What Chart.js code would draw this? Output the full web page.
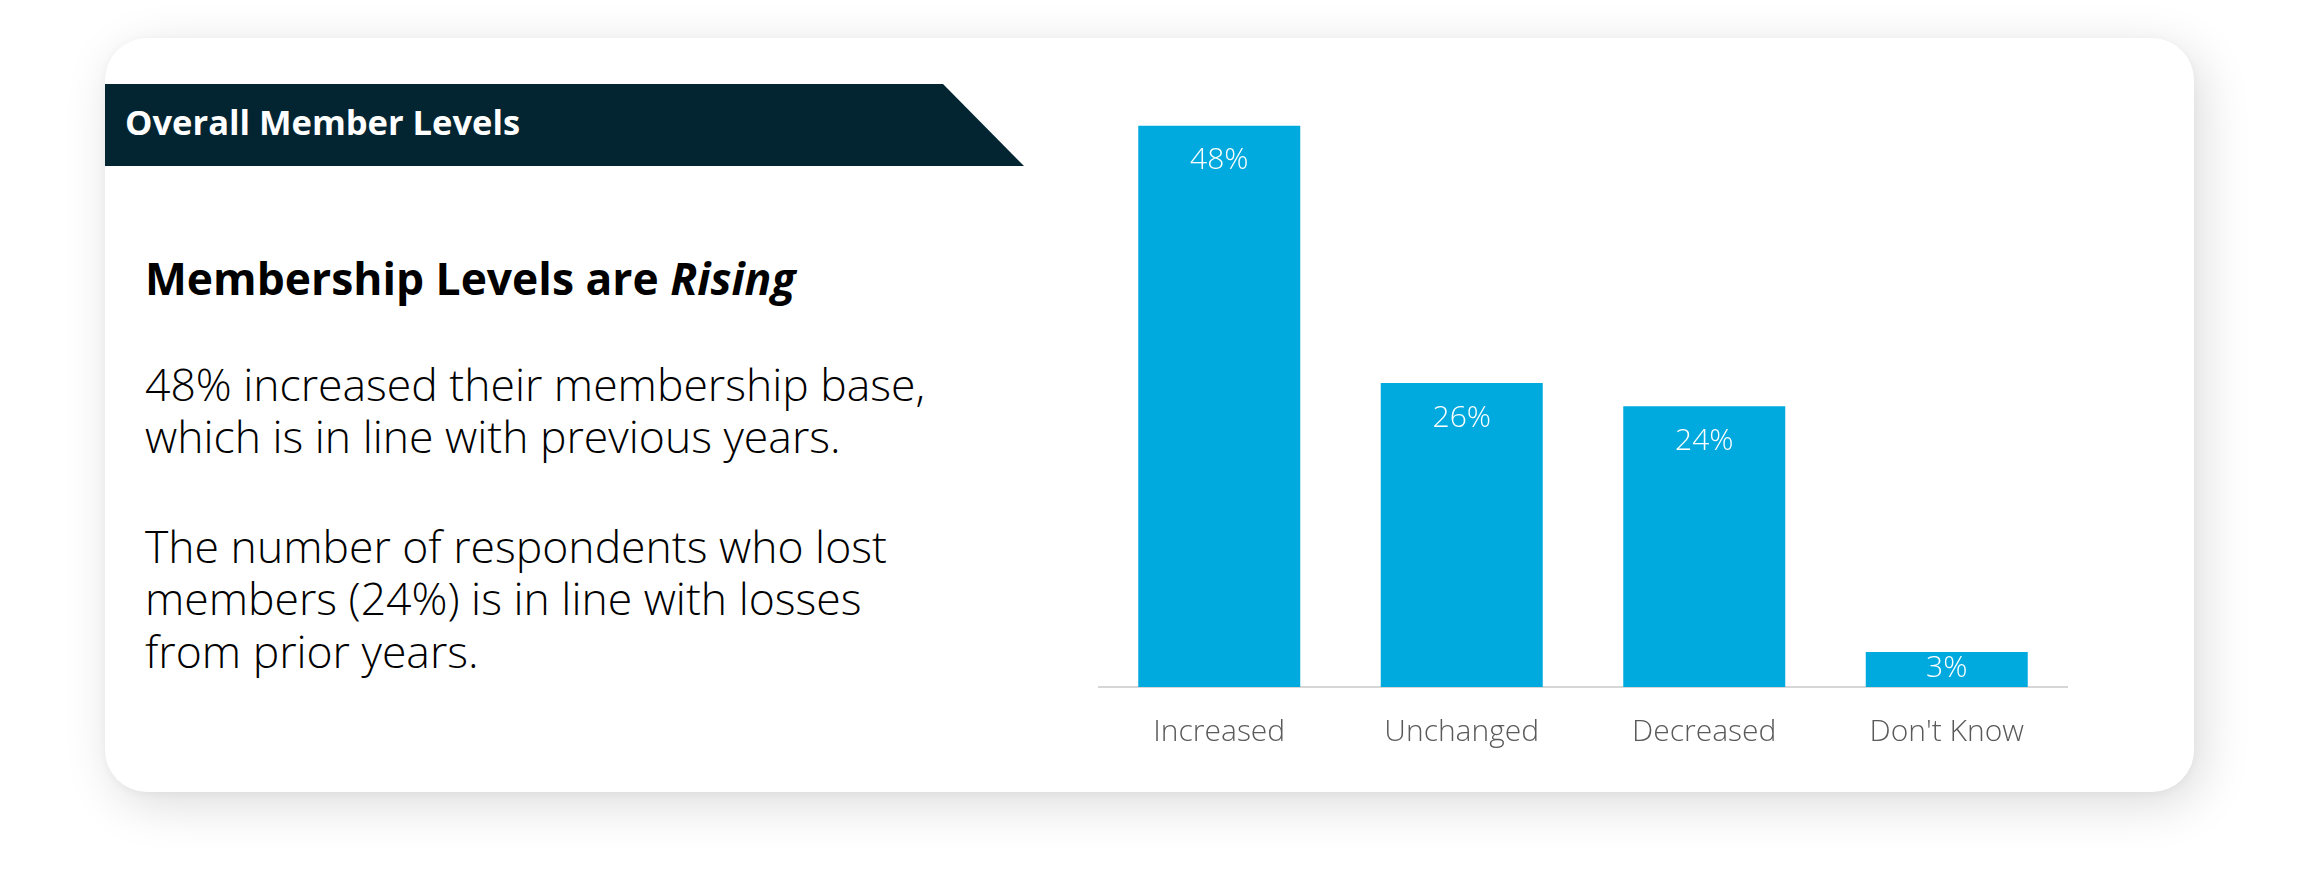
<!DOCTYPE html>
<html>
<head>
<meta charset="utf-8">
<script src="https://cdn.jsdelivr.net/npm/chart.js@4.4.1/dist/chart.umd.min.js"></script>
<style>
  html, body { margin: 0; padding: 0; background: #ffffff; width: 2298px; height: 875px; overflow: hidden; }
  body { position: relative; font-family: 'Open Sans', 'Noto Sans', sans-serif; }
  #card {
    position: absolute; left: 105px; top: 38px; width: 2089px; height: 754px;
    background: #ffffff; border-radius: 42px;
    box-shadow: 8px 12px 50px rgba(0,0,0,0.14), 0 2px 10px rgba(0,0,0,0.04);
  }
  #banner {
    position: absolute; left: 105px; top: 84px; width: 919px; height: 82px;
    background: #022531;
    clip-path: polygon(0 0, 838px 0, 919px 82px, 0 82px);
  }
  #banner-text {
    position: absolute; left: 125px; top: 101.6px; line-height: 40px;
    font-size: 34.5px; font-weight: 700; color: #ffffff; white-space: nowrap;
  }
  #heading {
    position: absolute; left: 145px; top: 247.8px; line-height: 60px;
    font-size: 44.4px; font-weight: 700; color: #000000; white-space: nowrap;
  }
  .para {
    position: absolute; left: 145px; line-height: 52.5px;
    font-size: 44.5px; font-weight: 300; color: #000000; white-space: nowrap;
  }
  #chartwrap { position: absolute; left: 1098px; top: 90px; width: 970px; height: 700px; }
</style>
</head>
<body>
<div id="card"></div>
<div id="banner"></div>
<div id="banner-text">Overall Member Levels</div>
<div id="heading">Membership Levels are <i>Rising</i></div>
<div class="para" style="top:357.5px">48% increased their membership base,<br>which is in line with previous years.</div>
<div class="para" style="top:519.5px">The number of respondents who lost<br>members (24%) is in line with losses<br>from prior years.</div>
<div id="chartwrap"><canvas id="c"></canvas></div>
<script>
const categories = ["Increased", "Unchanged", "Decreased", "Don't Know"];
const values = [48, 26, 24, 3];
const valueLabels = ["48%", "26%", "24%", "3%"];

const barLabels = {
  id: 'barLabels',
  afterDatasetsDraw(chart) {
    const ctx = chart.ctx;
    const meta = chart.getDatasetMeta(0);
    ctx.save();
    ctx.fillStyle = '#ffffff';
    ctx.font = '300 30px "Open Sans"';
    ctx.textAlign = 'center';
    ctx.textBaseline = 'middle';
    meta.data.forEach((el, i) => {
      const y = Math.min(el.y + 35, (el.y + el.base) / 2 - 1);
      ctx.fillText(valueLabels[i], el.x, y);
    });
    ctx.restore();
  }
};

new Chart(document.getElementById('c'), {
  type: 'bar',
  data: {
    labels: categories,
    datasets: [{
      data: values,
      backgroundColor: '#00aadf',
      borderWidth: 0,
      categoryPercentage: 1,
      barPercentage: 0.668
    }]
  },
  options: {
    responsive: true,
    maintainAspectRatio: false,
    animation: false,
    layout: { padding: { top: 12.3, bottom: 0, left: 0, right: 0 } },
    plugins: { legend: { display: false }, tooltip: { enabled: false } },
    scales: {
      y: { display: false, min: 0, max: 50 },
      x: {
        grid: { display: false, drawTicks: false },
        border: { display: true, color: '#d6d6d6', width: 2 },
        ticks: {
          color: '#5a5a5a',
          padding: 27,
          font: { family: 'Open Sans', size: 30, weight: '300' }
        },
        afterFit(scale) { scale.height = 103; }
      }
    }
  },
  plugins: [barLabels]
});
</script>
</body>
</html>
